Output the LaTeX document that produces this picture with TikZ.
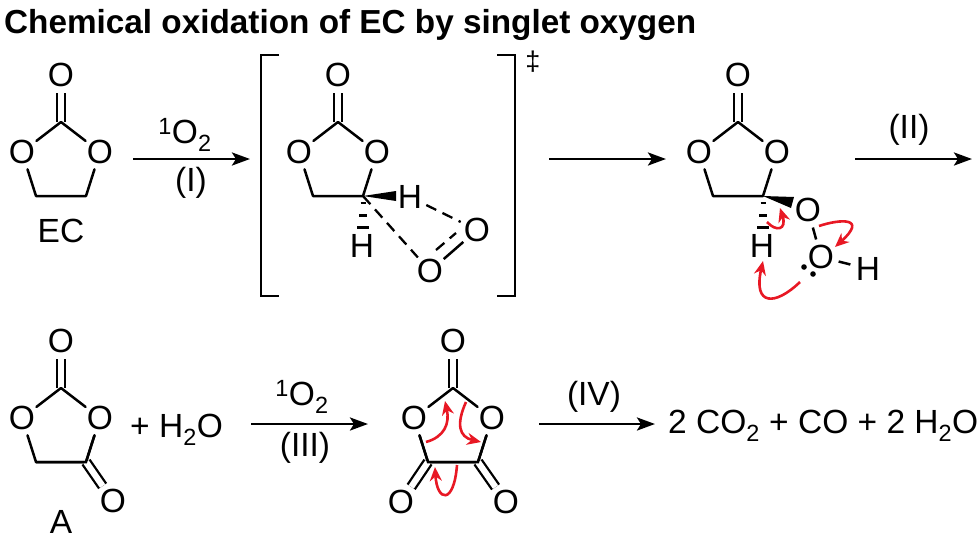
\documentclass[tikz,border=0pt]{standalone}
\usepackage{fontspec}
\setmainfont{Liberation Sans}
\usetikzlibrary{arrows.meta}
\definecolor{pushred}{RGB}{232,24,36}
\tikzset{
	atom/.style={circle, inner sep=0pt, minimum size=36pt, font=\fontsize{33.5}{40}\selectfont},
	label/.style={inner sep=0pt, font=\fontsize{33.5}{40}\selectfont},
	bond/.style={line width=2.5pt},
	dblbond/.style={line width=2.3pt, double, double distance=6.2pt},
	dashbond/.style={line width=2.3pt, dash pattern=on 11pt off 7pt},
	rxn/.style={line width=2.8pt, -{Stealth[length=18pt,width=13pt,inset=4pt]}},
	push/.style={pushred, line width=2.6pt, -{Stealth[length=14pt,width=12pt]}},
	brack/.style={line width=2.6pt},
}
\begin{document}
\begin{tikzpicture}[x=1pt,y=-1pt]
	\useasboundingbox (0,0) rectangle (980,539);
	\def\ring{
		\coordinate (C) at (0,0);
		\coordinate (L) at (-25,74);
		\coordinate (R) at (25,74);
		\node[atom] (T) at (0,-47) {O};
		\node[atom] (OL) at (-39,30) {O};
		\node[atom] (OR) at (39,30) {O};
		\draw[dblbond] (C) -- (T);
		\draw[bond, line cap=round, line join=round] (OL) -- (C) -- (OR);
		\draw[bond, line cap=round, line join=round] (OL) -- (L) -- (R) -- (OR);
	}
	\node[label, anchor=west, font=\fontsize{33.3}{40}\selectfont\bfseries] (title) at (4,25) {Chemical oxidation of EC by singlet oxygen};

	% top row
	\begin{scope}[shift={(61,122)}, name prefix=ec]
		\ring
	\end{scope}
	\node[label] (ecname) at (61,231) {EC};

	\coordinate (a1s) at (133,159);
	\coordinate (a1e) at (250,159);
	\draw[rxn] (a1s) -- (a1e);
	\node[label] (a1top) at (185,135) {\textsuperscript{1}O\textsubscript{2}};
	\node[label] (a1bot) at (191,183) {(I)};

	\coordinate (bl1) at (279,55);
	\coordinate (bl2) at (261,55);
	\coordinate (bl3) at (261,296);
	\coordinate (bl4) at (279,296);
	\draw[brack] (bl1) -- (bl2) -- (bl3) -- (bl4);
	\begin{scope}[shift={(338,122)}, name prefix=ts]
		\ring
	\end{scope}
	\coordinate (tsw1) at (396,191);
	\coordinate (tsw2) at (396,201);
	\fill (tsR) -- (tsw1) -- (tsw2) -- cycle;
	\node[atom] (tsH1) at (410,197) {H};
	\node[atom] (tsH2) at (362,246) {H};
	\node[atom] (tsO1) at (477,230) {O};
	\node[atom] (tsO2) at (430,271) {O};
	\draw[bond] (360.5,203) -- (365.5,203);
	\draw[bond] (359,215.5) -- (367,215.5);
	\draw[bond] (357,227.5) -- (369,227.5);
	\draw[dashbond] (tsH1) -- (tsO1);
	\draw[dashbond] (tsR) -- (tsO2);
	\draw[bond] (tsO2) -- (tsO1);
	\coordinate (tsd1) at (436,250);
	\coordinate (tsd2) at (456,233);
	\draw[dashbond] (tsd1) -- (tsd2);
	\coordinate (br1) at (497,55);
	\coordinate (br2) at (515,55);
	\coordinate (br3) at (515,296);
	\coordinate (br4) at (497,296);
	\draw[brack] (br1) -- (br2) -- (br3) -- (br4);
	\node[label, font=\fontsize{27}{32}\selectfont] (ddag) at (533,62) {‡};

	\coordinate (a2s) at (549,159);
	\coordinate (a2e) at (666,159);
	\draw[rxn] (a2s) -- (a2e);

	\begin{scope}[shift={(738,122)}, name prefix=hp]
		\ring
	\end{scope}
	\coordinate (hpw1) at (794,197);
	\coordinate (hpw2) at (791,208);
	\fill (hpR) -- (hpw1) -- (hpw2) -- cycle;
	\node[atom] (hpO1) at (808,210) {O};
	\node[atom] (hpO2) at (821,257) {O};
	\node[atom] (hpH1) at (868,269) {H};
	\node[atom] (hpH2) at (762,246) {H};
	\draw[bond] (760.5,203) -- (765.5,203);
	\draw[bond] (759,215.5) -- (767,215.5);
	\draw[bond] (757,227.5) -- (769,227.5);
	\draw[bond] (hpO1) -- (hpO2);
	\draw[bond] (hpO2) -- (hpH1);
	\fill (804,267) circle (2.8);
	\fill (813,274) circle (2.8);
	\coordinate (p1s) at (767,222);
	\coordinate (p1e) at (780,208);
	\draw[push] (p1s) .. controls (776,232) and (787,230) .. (p1e);
	\coordinate (p2s) at (819,226);
	\coordinate (p2e) at (835,247);
	\draw[push] (p2s) .. controls (840,219) and (868,217) .. (p2e);
	\coordinate (p3s) at (800,282);
	\coordinate (p3e) at (763,261);
	\draw[push] (p3s) .. controls (775,306) and (753,306) .. (p3e);

	\coordinate (a3s) at (855,159);
	\coordinate (a3e) at (972,159);
	\draw[rxn] (a3s) -- (a3e);
	\node[label] (a3top) at (909,130) {(II)};

	% bottom row
	\begin{scope}[shift={(61,388)}, name prefix=pa]
		\ring
	\end{scope}
	\node[atom] (paO) at (113,501) {O};
	\draw[dblbond] (paR) -- (paO);
	\draw[bond, line cap=round] (paL) -- (paR) -- (paOR);
	\node[label] (paname) at (61,522) {A};
	\node[label, anchor=west] (water) at (130,430) {+ H\textsubscript{2}O};

	\coordinate (a4s) at (251,424);
	\coordinate (a4e) at (368,424);
	\draw[rxn] (a4s) -- (a4e);
	\node[label] (a4top) at (302,397) {\textsuperscript{1}O\textsubscript{2}};
	\node[label] (a4bot) at (305,448) {(III)};

	\begin{scope}[shift={(453,388)}, name prefix=ox]
		\ring
	\end{scope}
	\node[atom] (oxO1) at (401,502) {O};
	\node[atom] (oxO2) at (506,502) {O};
	\draw[dblbond] (oxL) -- (oxO1);
	\draw[dblbond] (oxR) -- (oxO2);
	\draw[bond, line cap=round] (oxOL) -- (oxL) -- (oxR) -- (oxOR);
	\coordinate (p4s) at (426,442);
	\coordinate (p4e) at (445,401);
	\draw[push] (p4s) .. controls (444,437) and (450,424) .. (p4e);
	\coordinate (p5s) at (466,402);
	\coordinate (p5e) at (481,442);
	\draw[push] (p5s) .. controls (456,424) and (459,437) .. (p5e);
	\coordinate (p6s) at (457,465);
	\coordinate (p6e) at (435,467);
	\draw[push] (p6s) .. controls (454,505) and (437,502) .. (p6e);

	\coordinate (a5s) at (539,424);
	\coordinate (a5e) at (655,424);
	\draw[rxn] (a5s) -- (a5e);
	\node[label] (a5top) at (594,397) {(IV)};
	\node[label, anchor=west] (prod) at (668,426) {2 CO\textsubscript{2} + CO + 2 H\textsubscript{2}O};
\end{tikzpicture}
\end{document}
